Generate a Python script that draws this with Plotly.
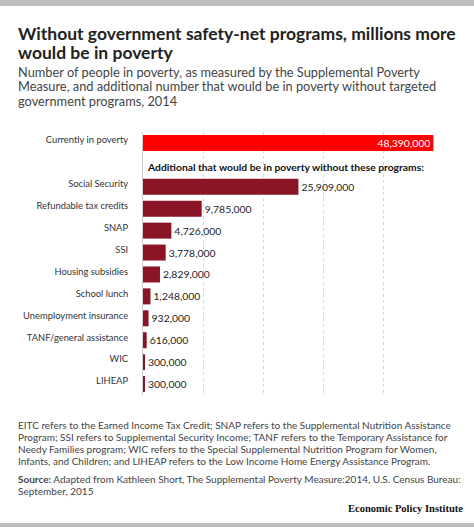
import plotly.graph_objects as go

categories = ["Currently in poverty", "Social Security", "Refundable tax credits", "SNAP", "SSI",
              "Housing subsidies", "School lunch", "Unemployment insurance",
              "TANF/general assistance", "WIC", "LIHEAP"]
values = [48390000, 25909000, 9785000, 4726000, 3778000, 2829000, 1248000, 932000, 616000, 300000, 300000]
heading = "Additional that would be in poverty without these programs:"
spacer = " "

FONT = "Lato"
W, H = 474, 527
L, R, T, B = 143, 31, 132, 132
PW, PH = W - L - R, H - T - B

def px(x):
    return (x - L) / PW

def py(y):
    return (H - B - y) / PH

order = [categories[0], spacer] + categories[1:]
colors = ["#ff0000"] + ["#8b1526"] * (len(categories) - 1)
labels = [f"{v:,}" for v in values]

fig = go.Figure()
fig.add_trace(go.Bar(
    y=categories, x=values, orientation="h",
    marker=dict(color=colors, line=dict(width=0)),
    text=labels,
    textposition=["inside"] + ["outside"] * (len(categories) - 1),
    insidetextanchor="end",
    insidetextfont=dict(color="white", size=10.4, family=FONT),
    outsidetextfont=dict(color="#222", size=10.4, family=FONT),
    constraintext="none", cliponaxis=False,
    width=0.73, hoverinfo="skip",
))

fig.update_layout(
    width=W, height=H, margin=dict(l=L, r=R, t=T, b=B, autoexpand=False),
    paper_bgcolor="white", plot_bgcolor="white",
    showlegend=False, bargap=0.27,
    font=dict(family=FONT, color="#333"),
    xaxis=dict(range=[0, 50000000], dtick=10000000, showticklabels=False, automargin=False,
               showgrid=True, gridcolor="#d6d6d6", griddash="dot", gridwidth=1,
               zeroline=False, showline=False, fixedrange=True),
    yaxis=dict(type="category", categoryorder="array", categoryarray=order[::-1],
               autorange=False, range=[-0.5, len(order) - 0.5], automargin=False,
               showgrid=False, zeroline=False, showline=True, linecolor="#cfcfcf", linewidth=1,
               ticks="", ticklabelstandoff=12, ticklabelshift=-3,
               tickfont=dict(size=9.4, color="#333", family=FONT)),
)

ann = []
def text(x, y, s, size, color="#333", bold=False, anchor="left", family=FONT):
    if bold:
        s = f"<b>{s}</b>"
    ann.append(dict(x=px(x), y=py(y), xref="paper", yref="paper", text=s, showarrow=False,
                    xanchor=anchor, yanchor="middle", align=anchor,
                    font=dict(size=size, color=color, family=family)))

text(16, 33, "Without government safety-net programs, millions more", 17.5, "#222", True)
text(16, 52, "would be in poverty", 17.5, "#222", True)
sub = ["Number of people in poverty, as measured by the Supplemental Poverty",
       "Measure, and additional number that would be in poverty without targeted",
       "government programs, 2014"]
for i, s in enumerate(sub):
    text(16, 72 + i * 14.3, s, 12.8, "#444")

# heading in the spacer slot
ann.append(dict(x=0, y=spacer, xref="x", yref="y", text=f"<b>{heading}</b>", showarrow=False,
                xanchor="left", yanchor="middle", xshift=2, yshift=-2,
                font=dict(size=10.3, color="#111", family=FONT)))

foot = ["EITC refers to the Earned Income Tax Credit; SNAP refers to the Supplemental Nutrition Assistance",
        "Program; SSI refers to Supplemental Security Income; TANF refers to the Temporary Assistance for",
        "Needy Families program; WIC refers to the Special Supplemental Nutrition Program for Women,",
        "Infants, and Children; and LIHEAP refers to the Low Income Home Energy Assistance Program."]
for i, s in enumerate(foot):
    text(16, 425 + i * 12, s, 10, "#444")
text(16, 478.5, "<b>Source:</b> Adapted from Kathleen Short, The Supplemental Poverty Measure:2014, U.S. Census Bureau:", 10, "#444")
text(16, 490.5, "September, 2015", 10, "#444")
text(465, 508, "Economic Policy Institute", 10.5, "#111", True, anchor="right", family="Liberation Serif")

fig.update_layout(annotations=ann)

fig.add_shape(type="rect", xref="paper", yref="paper", x0=px(0), x1=px(W), y0=py(0), y1=py(6),
              fillcolor="#bdbdbd", line=dict(width=0), layer="above")
fig.add_shape(type="rect", xref="paper", yref="paper", x0=px(0), x1=px(W), y0=py(523), y1=py(H),
              fillcolor="#bdbdbd", line=dict(width=0), layer="above")

fig.write_html("out.html")
